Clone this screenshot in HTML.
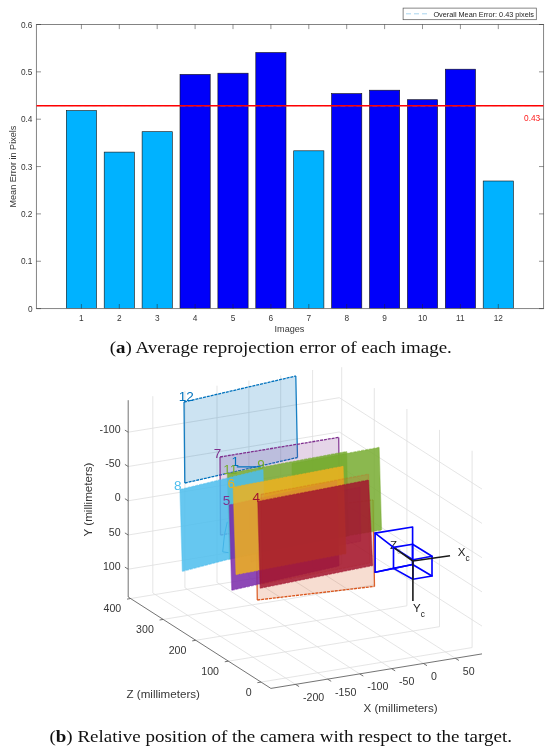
<!DOCTYPE html>
<html lang="en"><head><meta charset="utf-8"><title>Figure</title>
<style>html,body{margin:0;padding:0;background:#fff}svg{display:block}text{font-family:"Liberation Sans",Arial,sans-serif;fill:#363636}.cap{font-family:"Liberation Serif","DejaVu Serif",serif;fill:#111;font-size:16.1px}.g{stroke:#dedede;stroke-width:0.8;fill:none}.ax{stroke:#5a5a5a;stroke-width:0.85;fill:none}.tk{stroke:#262626;stroke-width:0.5;fill:none}.cam{stroke:#0000ff;stroke-width:1.65;fill:none;stroke-linejoin:round;stroke-linecap:round}.cax{stroke:#1a1a1a;stroke-width:1.6;fill:none}</style></head><body>
<svg width="550" height="753" viewBox="0 0 550 753">
<rect width="550" height="753" fill="#ffffff"/>
<g id="chartA">
<rect x="66.30" y="110.60" width="30.20" height="198.00" fill="#00b2ff" stroke="#111" stroke-width="0.6"/>
<rect x="104.20" y="152.10" width="30.20" height="156.50" fill="#00b2ff" stroke="#111" stroke-width="0.6"/>
<rect x="142.10" y="131.70" width="30.20" height="176.90" fill="#00b2ff" stroke="#111" stroke-width="0.6"/>
<rect x="180.00" y="74.40" width="30.20" height="234.20" fill="#0000fa" stroke="#111" stroke-width="0.6"/>
<rect x="217.90" y="73.20" width="30.20" height="235.40" fill="#0000fa" stroke="#111" stroke-width="0.6"/>
<rect x="255.80" y="52.50" width="30.20" height="256.10" fill="#0000fa" stroke="#111" stroke-width="0.6"/>
<rect x="293.70" y="150.80" width="30.20" height="157.80" fill="#00b2ff" stroke="#111" stroke-width="0.6"/>
<rect x="331.60" y="93.60" width="30.20" height="215.00" fill="#0000fa" stroke="#111" stroke-width="0.6"/>
<rect x="369.50" y="90.20" width="30.20" height="218.40" fill="#0000fa" stroke="#111" stroke-width="0.6"/>
<rect x="407.40" y="99.70" width="30.20" height="208.90" fill="#0000fa" stroke="#111" stroke-width="0.6"/>
<rect x="445.30" y="69.20" width="30.20" height="239.40" fill="#0000fa" stroke="#111" stroke-width="0.6"/>
<rect x="483.20" y="181.00" width="30.20" height="127.60" fill="#00b2ff" stroke="#111" stroke-width="0.6"/>
<rect x="36.4" y="24.5" width="507.20" height="284.10" fill="none" stroke="#777" stroke-width="0.9"/>
<path class="tk" d="M81.40 308.6 v-4.6 M81.40 24.5 v4.6"/>
<text x="81.40" y="321.0" font-size="8.3" text-anchor="middle">1</text>
<path class="tk" d="M119.30 308.6 v-4.6 M119.30 24.5 v4.6"/>
<text x="119.30" y="321.0" font-size="8.3" text-anchor="middle">2</text>
<path class="tk" d="M157.20 308.6 v-4.6 M157.20 24.5 v4.6"/>
<text x="157.20" y="321.0" font-size="8.3" text-anchor="middle">3</text>
<path class="tk" d="M195.10 308.6 v-4.6 M195.10 24.5 v4.6"/>
<text x="195.10" y="321.0" font-size="8.3" text-anchor="middle">4</text>
<path class="tk" d="M233.00 308.6 v-4.6 M233.00 24.5 v4.6"/>
<text x="233.00" y="321.0" font-size="8.3" text-anchor="middle">5</text>
<path class="tk" d="M270.90 308.6 v-4.6 M270.90 24.5 v4.6"/>
<text x="270.90" y="321.0" font-size="8.3" text-anchor="middle">6</text>
<path class="tk" d="M308.80 308.6 v-4.6 M308.80 24.5 v4.6"/>
<text x="308.80" y="321.0" font-size="8.3" text-anchor="middle">7</text>
<path class="tk" d="M346.70 308.6 v-4.6 M346.70 24.5 v4.6"/>
<text x="346.70" y="321.0" font-size="8.3" text-anchor="middle">8</text>
<path class="tk" d="M384.60 308.6 v-4.6 M384.60 24.5 v4.6"/>
<text x="384.60" y="321.0" font-size="8.3" text-anchor="middle">9</text>
<path class="tk" d="M422.50 308.6 v-4.6 M422.50 24.5 v4.6"/>
<text x="422.50" y="321.0" font-size="8.3" text-anchor="middle">10</text>
<path class="tk" d="M460.40 308.6 v-4.6 M460.40 24.5 v4.6"/>
<text x="460.40" y="321.0" font-size="8.3" text-anchor="middle">11</text>
<path class="tk" d="M498.30 308.6 v-4.6 M498.30 24.5 v4.6"/>
<text x="498.30" y="321.0" font-size="8.3" text-anchor="middle">12</text>
<path class="tk" d="M36.4 308.60 h4.6 M543.6 308.60 h-4.6"/>
<text x="32.5" y="311.60" font-size="8.3" text-anchor="end">0</text>
<path class="tk" d="M36.4 261.25 h4.6 M543.6 261.25 h-4.6"/>
<text x="32.5" y="264.25" font-size="8.3" text-anchor="end">0.1</text>
<path class="tk" d="M36.4 213.90 h4.6 M543.6 213.90 h-4.6"/>
<text x="32.5" y="216.90" font-size="8.3" text-anchor="end">0.2</text>
<path class="tk" d="M36.4 166.55 h4.6 M543.6 166.55 h-4.6"/>
<text x="32.5" y="169.55" font-size="8.3" text-anchor="end">0.3</text>
<path class="tk" d="M36.4 119.20 h4.6 M543.6 119.20 h-4.6"/>
<text x="32.5" y="122.20" font-size="8.3" text-anchor="end">0.4</text>
<path class="tk" d="M36.4 71.85 h4.6 M543.6 71.85 h-4.6"/>
<text x="32.5" y="74.85" font-size="8.3" text-anchor="end">0.5</text>
<path class="tk" d="M36.4 24.50 h4.6 M543.6 24.50 h-4.6"/>
<text x="32.5" y="27.50" font-size="8.3" text-anchor="end">0.6</text>
<path d="M36.4 105.70 H543.6" stroke="#a8d4ee" stroke-width="1" stroke-dasharray="5 3" fill="none"/>
<path d="M36.4 105.70 H543.6" stroke="#ff0000" stroke-width="1.35" fill="none"/>
<text x="540.2" y="120.6" font-size="8.3" text-anchor="end" style="fill:#ff1a1a">0.43</text>
<text x="289.5" y="332.0" font-size="9.1" text-anchor="middle">Images</text>
<text transform="translate(15.9 166.6) rotate(-90)" font-size="9.1" text-anchor="middle">Mean Error in Pixels</text>
<rect x="403.1" y="8.1" width="133.2" height="11.6" fill="#fff" stroke="#555" stroke-width="0.7"/>
<path d="M406 13.8 H429.5" stroke="#a8d4ee" stroke-width="1" stroke-dasharray="5 3" fill="none"/>
<text x="433.4" y="16.5" font-size="7.3" style="fill:#222">Overall Mean Error: 0.43 pixels</text>
</g>
<text class="cap" x="109.8" y="353.2" textLength="342" lengthAdjust="spacingAndGlyphs">(<tspan font-weight="bold">a</tspan>) Average reprojection error of each image.</text>
<text class="cap" x="49.4" y="742.2" textLength="462.6" lengthAdjust="spacingAndGlyphs">(<tspan font-weight="bold">b</tspan>) Relative position of the camera with respect to the target.</text>
<g id="chartB">
<path class="g" d="M152.80 396.18 L152.80 592.98"/>
<path class="g" d="M152.80 592.98 L295.50 684.38"/>
<path class="g" d="M184.90 390.93 L184.90 587.73"/>
<path class="g" d="M184.90 587.73 L327.60 679.13"/>
<path class="g" d="M217.00 385.69 L217.00 582.49"/>
<path class="g" d="M217.00 582.49 L359.70 673.89"/>
<path class="g" d="M248.90 380.47 L248.90 577.27"/>
<path class="g" d="M248.90 577.27 L391.60 668.67"/>
<path class="g" d="M280.70 375.28 L280.70 572.08"/>
<path class="g" d="M280.70 572.08 L423.40 663.48"/>
<path class="g" d="M312.60 370.06 L312.60 566.86"/>
<path class="g" d="M312.60 566.86 L455.30 658.26"/>
<path class="g" d="M128.20 432.20 L339.30 397.70"/>
<path class="g" d="M339.30 397.70 L482.00 489.10"/>
<path class="g" d="M128.20 466.50 L339.30 432.00"/>
<path class="g" d="M339.30 432.00 L482.00 523.40"/>
<path class="g" d="M128.20 500.80 L339.30 466.30"/>
<path class="g" d="M339.30 466.30 L482.00 557.70"/>
<path class="g" d="M128.20 535.00 L339.30 500.50"/>
<path class="g" d="M339.30 500.50 L482.00 591.90"/>
<path class="g" d="M128.20 569.20 L339.30 534.70"/>
<path class="g" d="M339.30 534.70 L482.00 626.10"/>
<path class="g" d="M341.70 367.24 L341.70 564.04"/>
<path class="g" d="M130.60 598.54 L341.70 564.04"/>
<path class="g" d="M374.30 388.12 L374.30 584.92"/>
<path class="g" d="M163.20 619.42 L374.30 584.92"/>
<path class="g" d="M406.90 409.00 L406.90 605.80"/>
<path class="g" d="M195.80 640.30 L406.90 605.80"/>
<path class="g" d="M439.50 429.88 L439.50 626.68"/>
<path class="g" d="M228.40 661.18 L439.50 626.68"/>
<path class="g" d="M472.10 450.76 L472.10 647.56"/>
<path class="g" d="M261.00 682.06 L472.10 647.56"/>
<polygon points="184.0,402.0 295.8,376.0 297.5,457.5 184.8,483.0" fill="#0072BD" fill-opacity="0.2"/>
<path d="M184.0 402.0 L295.8 376.0 M184.8 483.0 L297.5 457.5" fill="none" stroke="#0072BD" stroke-opacity="1" stroke-width="1.3" stroke-dasharray="3 0.9"/>
<path d="M184.0 402.0 L184.8 483.0 M295.8 376.0 L297.5 457.5" fill="none" stroke="#0072BD" stroke-opacity="0.90" stroke-width="1.3"/>
<polygon points="220.0,457.0 338.7,437.4 339.6,517.0 220.5,535.0" fill="#7E2F8E" fill-opacity="0.2"/>
<path d="M220.0 457.0 L338.7 437.4 M220.5 535.0 L339.6 517.0" fill="none" stroke="#7E2F8E" stroke-opacity="1" stroke-width="1.3" stroke-dasharray="3 0.9"/>
<path d="M220.0 457.0 L220.5 535.0 M338.7 437.4 L339.6 517.0" fill="none" stroke="#7E2F8E" stroke-opacity="0.90" stroke-width="1.3"/>
<path d="M236.8 466.9 L261.0 466.8" fill="none" stroke="#0072BD" stroke-width="1.3"/>
<polygon points="256.0,514.0 373.0,500.0 374.5,586.4 257.3,600.0" fill="#D95319" fill-opacity="0.2"/>
<path d="M256.0 514.0 L373.0 500.0 M257.3 600.0 L374.5 586.4" fill="none" stroke="#D95319" stroke-opacity="1" stroke-width="1.3" stroke-dasharray="3 0.9"/>
<path d="M256.0 514.0 L257.3 600.0 M373.0 500.0 L374.5 586.4" fill="none" stroke="#D95319" stroke-opacity="0.90" stroke-width="1.3"/>
<polygon points="227.4,473.6 346.6,451.6 348.5,536.0 229.5,559.0" fill="#77AC30" fill-opacity="0.85"/>
<path d="M227.4 473.6 L346.6 451.6 M229.5 559.0 L348.5 536.0" fill="none" stroke="#77AC30" stroke-opacity="0.5" stroke-width="1.3" stroke-dasharray="3 0.9"/>
<path d="M227.4 473.6 L229.5 559.0 M346.6 451.6 L348.5 536.0" fill="none" stroke="#77AC30" stroke-opacity="0.45" stroke-width="1.3"/>
<polygon points="292.0,463.5 379.1,447.4 381.5,530.0 293.5,545.0" fill="#77AC30" fill-opacity="0.85"/>
<path d="M292.0 463.5 L379.1 447.4 M293.5 545.0 L381.5 530.0" fill="none" stroke="#77AC30" stroke-opacity="0.5" stroke-width="1.3" stroke-dasharray="3 0.9"/>
<path d="M292.0 463.5 L293.5 545.0 M379.1 447.4 L381.5 530.0" fill="none" stroke="#77AC30" stroke-opacity="0.45" stroke-width="1.3"/>
<polygon points="250.0,508.0 359.9,487.3 360.6,541.2 251.0,562.0" fill="#7E2F8E" fill-opacity="0.3"/>
<path d="M250.0 508.0 L359.9 487.3 M251.0 562.0 L360.6 541.2" fill="none" stroke="#7E2F8E" stroke-opacity="0.3" stroke-width="1.3" stroke-dasharray="3 0.9"/>
<path d="M250.0 508.0 L251.0 562.0 M359.9 487.3 L360.6 541.2" fill="none" stroke="#7E2F8E" stroke-opacity="0.27" stroke-width="1.3"/>
<path d="M227.3 521.8 L224.5 534.5 L222.7 551.8 L228.5 552.7" fill="none" stroke="#0072BD" stroke-width="1"/>
<polygon points="180.0,489.5 263.0,469.5 265.0,549.8 182.4,571.3" fill="#4DBEEE" fill-opacity="0.86"/>
<path d="M180.0 489.5 L263.0 469.5 M182.4 571.3 L265.0 549.8" fill="none" stroke="#4DBEEE" stroke-opacity="0.5" stroke-width="1.3" stroke-dasharray="3 0.9"/>
<path d="M180.0 489.5 L182.4 571.3 M263.0 469.5 L265.0 549.8" fill="none" stroke="#4DBEEE" stroke-opacity="0.45" stroke-width="1.3"/>
<polygon points="229.2,505.0 337.0,481.0 339.0,566.0 231.8,590.2" fill="#7a2aaa" fill-opacity="0.86"/>
<path d="M229.2 505.0 L337.0 481.0 M231.8 590.2 L339.0 566.0" fill="none" stroke="#7a2aaa" stroke-opacity="0.5" stroke-width="1.3" stroke-dasharray="3 0.9"/>
<path d="M229.2 505.0 L231.8 590.2 M337.0 481.0 L339.0 566.0" fill="none" stroke="#7a2aaa" stroke-opacity="0.45" stroke-width="1.3"/>
<polygon points="233.2,487.2 343.1,466.3 345.9,553.6 236.0,574.5" fill="#EDB120" fill-opacity="0.86"/>
<path d="M233.2 487.2 L343.1 466.3 M236.0 574.5 L345.9 553.6" fill="none" stroke="#EDB120" stroke-opacity="0.5" stroke-width="1.3" stroke-dasharray="3 0.9"/>
<path d="M233.2 487.2 L236.0 574.5 M343.1 466.3 L345.9 553.6" fill="none" stroke="#EDB120" stroke-opacity="0.45" stroke-width="1.3"/>
<polygon points="261.0,494.3 368.5,474.2 369.8,563.0 262.5,584.0" fill="#D95319" fill-opacity="0.2"/>
<path d="M261.0 494.3 L368.5 474.2 M262.5 584.0 L369.8 563.0" fill="none" stroke="#D95319" stroke-opacity="0.25" stroke-width="1.3" stroke-dasharray="3 0.9"/>
<path d="M261.0 494.3 L262.5 584.0 M368.5 474.2 L369.8 563.0" fill="none" stroke="#D95319" stroke-opacity="0.23" stroke-width="1.3"/>
<polygon points="257.8,501.4 368.5,480.1 372.7,565.5 260.2,588.2" fill="#A2142F" fill-opacity="0.84"/>
<path d="M257.8 501.4 L368.5 480.1 M260.2 588.2 L372.7 565.5" fill="none" stroke="#A2142F" stroke-opacity="0.5" stroke-width="1.3" stroke-dasharray="3 0.9"/>
<path d="M257.8 501.4 L260.2 588.2 M368.5 480.1 L372.7 565.5" fill="none" stroke="#A2142F" stroke-opacity="0.45" stroke-width="1.3"/>
<text x="178.8" y="401.4" font-size="13.5" style="fill:#0072BD">12</text>
<text x="213.8" y="457.5" font-size="13.5" style="fill:#7E2F8E">7</text>
<text x="231.6" y="466.2" font-size="13.5" style="fill:#0072BD">1</text>
<text x="223.3" y="474.1" font-size="13.5" style="fill:#77AC30">11</text>
<text x="257.3" y="468.8" font-size="13.5" style="fill:#77AC30">9</text>
<text x="174.0" y="490.3" font-size="13.5" style="fill:#4DBEEE">8</text>
<text x="227.5" y="488.0" font-size="13.5" style="fill:#EDB120">6</text>
<text x="222.8" y="504.9" font-size="13.5" style="fill:#7E2F8E">5</text>
<text x="252.4" y="501.6" font-size="13.5" style="fill:#A2142F">4</text>
<text x="390.0" y="548.6" font-size="11.5" style="fill:#1a1a1a">Z<tspan dy="5.2" font-size="8.3" fill-opacity="0.3">c</tspan></text>
<path class="cam" d="M375.1 533.1 L412.6 527.0 L412.6 564.5 L375.1 572.2 Z"/>
<path class="cam" d="M393.5 547.4 L412.6 544.2 L432.0 556.3 L412.9 559.7 Z"/>
<path class="cam" d="M393.5 568.4 L412.6 564.5 L432.0 576.0 L412.9 579.2 Z"/>
<path class="cam" d="M393.5 547.4 L393.5 568.4"/>
<path class="cam" d="M412.6 544.2 L412.6 564.5"/>
<path class="cam" d="M432.0 556.3 L432.0 576.0"/>
<path class="cam" d="M412.9 559.7 L412.9 579.2"/>
<path class="cam" d="M375.1 533.1 L393.5 547.4"/>
<path class="cam" d="M375.1 572.2 L393.5 568.4"/>
<path class="cax" d="M412.9 561.0 L450.0 555.8"/>
<path class="cax" d="M412.9 561.0 L412.9 600.9"/>
<path class="cax" d="M412.9 561.0 L394.5 548.2"/>
<text x="457.8" y="556.2" font-size="11.5" style="fill:#1a1a1a">X<tspan dy="5.2" font-size="8.3">c</tspan></text>
<text x="413.0" y="612.0" font-size="11.5" style="fill:#1a1a1a">Y<tspan dy="5.2" font-size="8.3">c</tspan></text>
<path class="ax" d="M128.20 400.20 L128.20 597.00"/>
<path class="ax" d="M128.20 597.00 L270.90 688.40"/>
<path class="ax" d="M270.90 688.40 L482.00 653.90"/>
<path class="ax" d="M128.20 432.20 L124.90 430.10"/>
<text x="120.6" y="432.7" font-size="10.6" text-anchor="end">-100</text>
<path class="ax" d="M128.20 466.50 L124.90 464.40"/>
<text x="120.6" y="467.0" font-size="10.6" text-anchor="end">-50</text>
<path class="ax" d="M128.20 500.80 L124.90 498.70"/>
<text x="120.6" y="501.3" font-size="10.6" text-anchor="end">0</text>
<path class="ax" d="M128.20 535.00 L124.90 532.90"/>
<text x="120.6" y="535.5" font-size="10.6" text-anchor="end">50</text>
<path class="ax" d="M128.20 569.20 L124.90 567.10"/>
<text x="120.6" y="569.7" font-size="10.6" text-anchor="end">100</text>
<path class="ax" d="M130.60 598.54 L127.00 599.14"/>
<text x="121.2" y="611.9" font-size="10.6" text-anchor="end">400</text>
<path class="ax" d="M163.20 619.42 L159.60 620.02"/>
<text x="153.8" y="632.8" font-size="10.6" text-anchor="end">300</text>
<path class="ax" d="M195.80 640.30 L192.20 640.90"/>
<text x="186.4" y="653.7" font-size="10.6" text-anchor="end">200</text>
<path class="ax" d="M228.40 661.18 L224.80 661.78"/>
<text x="219.0" y="674.6" font-size="10.6" text-anchor="end">100</text>
<path class="ax" d="M261.00 682.06 L257.40 682.66"/>
<text x="251.6" y="695.5" font-size="10.6" text-anchor="end">0</text>
<path class="ax" d="M295.50 684.38 L299.10 686.58"/>
<text x="303.0" y="700.8" font-size="10.6">-200</text>
<path class="ax" d="M327.60 679.13 L331.20 681.33"/>
<text x="335.1" y="695.5" font-size="10.6">-150</text>
<path class="ax" d="M359.70 673.89 L363.30 676.09"/>
<text x="367.2" y="690.3" font-size="10.6">-100</text>
<path class="ax" d="M391.60 668.67 L395.20 670.87"/>
<text x="399.1" y="685.1" font-size="10.6">-50</text>
<path class="ax" d="M423.40 663.48 L427.00 665.68"/>
<text x="430.9" y="679.9" font-size="10.6">0</text>
<path class="ax" d="M455.30 658.26 L458.90 660.46"/>
<text x="462.8" y="674.7" font-size="10.6">50</text>
<text x="163.2" y="697.5" font-size="11.6" text-anchor="middle">Z (millimeters)</text>
<text x="400.6" y="712.0" font-size="11.6" text-anchor="middle">X (millimeters)</text>
<text transform="translate(91.8 499.5) rotate(-90)" font-size="11.6" text-anchor="middle">Y (millimeters)</text>
</g>
</svg></body></html>
